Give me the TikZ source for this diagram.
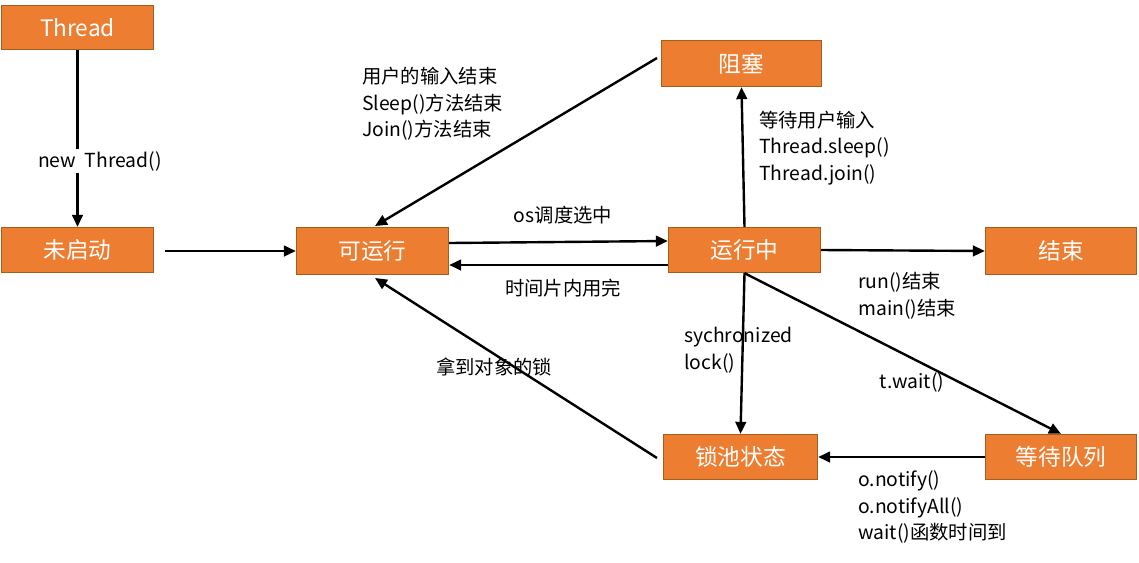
\documentclass[tikz,border=0pt]{standalone}
\usepackage{fontspec}
\setmainfont{Noto Sans CJK SC}
\usetikzlibrary{arrows.meta}
\begin{document}
\begin{tikzpicture}[x=0.75pt,y=-0.75pt,
  box/.style={draw=orange!60!black!90,line width=1pt,fill={rgb,255:red,237;green,125;blue,49},text=white,font=\fontsize{17}{20}\selectfont,inner sep=0pt},
  arr/.style={line width=1.8pt,-{Triangle[length=9pt,width=8pt]}},
  lab/.style={font=\fontsize{14.5}{20}\selectfont,align=left,inner sep=0pt}]
\useasboundingbox (0,0) rectangle (1139,562);
\newcommand\bx[6]{\node[box,minimum width=#4*0.75pt-0.75pt,minimum height=#5*0.75pt-0.75pt] (#1) at (#2,#3) {#6};}
\bx{th}{77.5}{27.5}{153}{45}{Thread}
\bx{wq}{77.5}{250}{153}{46}{未启动}
\bx{ky}{372.5}{251}{153}{48}{可运行}
\bx{yx}{744.5}{250}{153}{46}{运行中}
\bx{js}{1061}{251}{152}{48}{结束}
\bx{zs}{741.5}{63.5}{161}{47}{阻塞}
\bx{sc}{740.5}{457}{155}{46}{锁池状态}
\bx{dd}{1061}{457}{152}{46}{等待队列}
\coordinate (a1) at (165,251);
\coordinate (b1) at (657,58);
\coordinate (b2) at (375,226);
\coordinate (c1) at (657,458);
\coordinate (c2) at (375,278);
\draw[arr] (th) -- (wq);
\draw[arr] (a1) -- (ky.west);
\draw[arr] (ky.east|-0,243) -- (yx.west|-0,241);
\draw[arr] (yx.west|-0,265) -- (ky.east|-0,265);
\draw[arr] (b1) -- (b2);
\draw[arr] (yx.north) -- (zs.south);
\draw[arr] (yx.east) -- (js.west);
\draw[arr] (yx.south) -- (sc.north);
\draw[arr] (yx.south) -- (dd.north);
\draw[arr] (dd.west) -- (sc.east);
\draw[arr] (c1) -- (c2);
\node[lab,fill=white,inner sep=2pt] (l0) at (100,161) {new\ \ Thread()};
\node[lab,anchor=west] (l1) at (362,104) {用户的输入结束\\Sleep()方法结束\\Join()方法结束};
\node[lab,anchor=west] (l2) at (759,148) {等待用户输入\\Thread.sleep()\\Thread.join()};
\node[lab] (l3) at (563,215) {os调度选中};
\node[lab] (l4) at (563,288) {时间片内用完};
\node[lab,anchor=west] (l5) at (858,296) {run()结束\\main()结束};
\node[lab,anchor=west] (l6) at (684,350) {sychronized\\lock()};
\node[lab] (l7) at (912,382) {t.wait()};
\node[lab,anchor=west] (l8) at (858,507) {o.notify()\\o.notifyAll()\\wait()函数时间到};
\node[lab] (l9) at (494,367) {拿到对象的锁};
\end{tikzpicture}
\end{document}
